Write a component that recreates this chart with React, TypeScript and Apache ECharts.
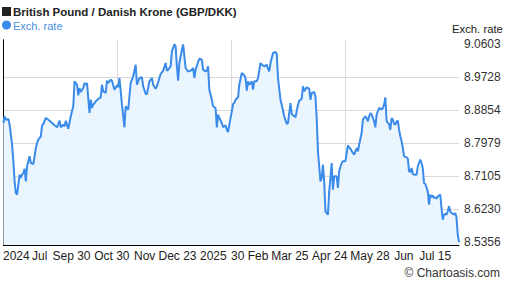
import { useEffect, useRef } from 'react';
import * as echarts from 'echarts';

// days since 2024-07-01
const days = [
  0, 1, 2, 4, 5, 7, 8, 9, 10, 11,
  13, 14, 15, 16, 17, 18, 19, 20, 21, 22,
  24, 25, 26, 27, 28, 30, 31, 32, 34, 35,
  37, 39, 41, 43, 45, 46, 48, 49, 50, 52,
  54, 56, 57, 59, 60, 61, 62, 64, 65, 66,
  67, 69, 70, 71, 72, 74, 76, 78, 79, 80,
  82, 83, 84, 86, 87, 89, 91, 92, 93, 95,
  97, 98, 100, 101, 102, 104, 106, 107, 109, 111,
  112, 114, 115, 117, 119, 120, 122, 123, 125, 126,
  128, 130, 131, 132, 134, 135, 137, 138, 139, 140,
  141, 143, 144, 145, 146, 148, 149, 151, 152, 153,
  154, 156, 157, 159, 160, 162, 163, 164, 165, 167,
  168, 170, 171, 172, 173, 175, 176, 178, 179, 180, 181,
  183, 184, 185, 186, 188, 189, 191, 193, 194,
  195, 196, 197, 198, 199, 200, 201, 203, 204, 206,
  207, 209, 211, 212, 213, 214, 216, 218, 219, 220,
  222, 223, 225, 227, 228, 229, 230, 231, 233, 234,
  236, 237, 239, 240, 241, 243, 245, 246, 247, 249,
  250, 251, 252, 253, 254, 255, 256, 257, 258, 260,
  261, 262, 263, 264, 265, 267, 268, 269, 271, 272, 274,
  276, 277, 278, 280, 281, 282, 283, 284, 285,
  287, 288, 290, 291, 292, 293, 294, 295, 297, 298,
  299, 301, 302, 303, 304, 305, 306, 307, 308, 309,
  310, 311, 312, 313, 314, 315, 316, 317, 318, 319,
  320, 321, 323, 324, 325, 326, 327, 328, 329, 331,
  332, 333, 334, 335, 336, 337, 338, 340, 341, 342,
  343, 344, 345, 346, 347, 348, 350, 351, 352, 353,
  354, 355, 356, 357, 358, 359, 361, 362, 363, 364, 365,
];

const rates = [
  8.8517, 8.8695, 8.8605, 8.8623, 8.8472, 8.7942, 8.7502, 8.6972, 8.6662, 8.6617,
  8.7147, 8.7060, 8.7147, 8.7192, 8.7306, 8.6972, 8.7370, 8.7502, 8.7635, 8.7457,
  8.7431, 8.7635, 8.7855, 8.7987, 8.8075, 8.8165, 8.8456, 8.8491, 8.8650, 8.8631,
  8.8578, 8.8517, 8.8456, 8.8403, 8.8578, 8.8403, 8.8472, 8.8430, 8.8578, 8.8366,
  8.8695, 8.8960, 8.9622, 8.9532, 8.9251, 8.9445, 8.9339, 8.9445, 8.9577, 8.9532,
  8.9577, 8.8782, 8.9135, 8.8915, 8.9002, 8.9092, 8.9153, 8.9198, 8.9532, 8.9357,
  8.9312, 8.9638, 8.9577, 8.9665, 8.9638, 8.9400, 8.9516, 8.9463, 8.9710, 8.9002,
  8.8403, 8.8960, 8.8870, 8.9225, 8.9577, 8.9755, 9.0062, 8.9532, 8.9710, 8.9728,
  8.9490, 8.9286, 8.9286, 8.9622, 8.9710, 8.9532, 8.9426, 8.9490, 8.9710, 8.9816,
  8.9903, 9.0107, 8.9903, 8.9930, 9.0020, 9.0417, 9.0600, 9.0550, 9.0020, 8.9638,
  9.0107, 9.0460, 9.0600, 9.0285, 8.9975, 8.9887, 8.9887, 8.9930, 8.9975, 8.9710,
  8.9930, 9.0134, 9.0221, 9.0195, 8.9930, 8.9887, 8.9903, 9.0020, 8.9400, 8.9135,
  8.8960, 8.8915, 8.8403, 8.8737, 8.8650, 8.8517, 8.8403, 8.8456, 8.8340, 8.8279, 8.8472,
  8.8827, 8.9021, 8.9047, 8.9135, 8.9198, 8.9532, 8.9842, 8.9781, 8.9710,
  8.9373, 8.9622, 8.9532, 8.9577, 8.9622, 8.9400, 8.9622, 8.9622, 8.9710, 9.0107,
  9.0062, 9.0020, 9.0062, 8.9956, 8.9887, 9.0107, 9.0372, 9.0399, 9.0346, 8.9710,
  8.9135, 8.9002, 8.8695, 8.8491, 8.8517, 8.8782, 8.9047, 8.8756, 8.8695, 8.8668,
  8.9002, 8.9108, 8.9161, 8.9490, 8.9357, 8.9463, 8.9426, 8.9135, 8.9312, 8.9339,
  8.9225, 8.8650, 8.7767, 8.7370, 8.6972, 8.7060, 8.7412, 8.6972, 8.6177, 8.6087,
  8.6707, 8.7060, 8.7457, 8.6750, 8.7105, 8.7105, 8.6795, 8.7237, 8.7457, 8.7502, 8.7502,
  8.7926, 8.7873, 8.7836, 8.7722, 8.7677, 8.7767, 8.7855, 8.7767, 8.7942,
  8.8252, 8.8605, 8.8695, 8.8650, 8.8562, 8.8695, 8.8782, 8.8737, 8.8562, 8.8403,
  8.8737, 8.8915, 8.8900, 8.8870, 8.8915, 8.9002, 8.9198, 8.8578, 8.8517, 8.8491,
  8.8340, 8.8650, 8.8605, 8.8491, 8.8472, 8.8562, 8.8578, 8.8340, 8.8165, 8.8032,
  8.7855, 8.7635, 8.7608, 8.7571, 8.7237, 8.7219, 8.7325, 8.7166, 8.7147, 8.7147,
  8.7370, 8.7457, 8.7545, 8.7457, 8.7325, 8.6927, 8.6901, 8.6707, 8.6352, 8.6617,
  8.6548, 8.6601, 8.6530, 8.6548, 8.6511, 8.6575, 8.6617, 8.6265, 8.5955, 8.6087,
  8.6106, 8.6087, 8.6177, 8.6310, 8.6177, 8.6132, 8.6087, 8.6132, 8.6018, 8.5557, 8.5360,
];

const yTicks = [8.5356, 8.623, 8.7105, 8.7979, 8.8854, 8.9728, 9.0603];
const yGridTicks = [8.623, 8.7105, 8.7979, 8.8854, 8.9728];
const xGridDays = [91.4, 182.3, 273.6];
const xLabelDays = [10.4, 29.1, 54.6, 86.9, 113.2, 139.5, 168.2, 197.3, 229.5, 261.4, 293.7, 320.8, 345.9];
const xLabels = ['2024', 'Jul', 'Sep 30', 'Oct 30', 'Nov', 'Dec 23', '2025', '30 Feb', 'Mar 25', 'Apr 24', 'May 28', 'Jun', 'Jul 15'];

const FONT = 'Liberation Sans, Arial, sans-serif';
const LINE = '#3b8beb';

export default function App() {
  const ref = useRef<HTMLDivElement>(null);
  useEffect(() => {
    if (!ref.current) return;
    const chart = echarts.init(ref.current, undefined, { renderer: 'svg' });
    const nearest = (arr: number[], v: number) => {
      let bi = 0;
      arr.forEach((a, i) => { if (Math.abs(a - v) < Math.abs(arr[bi] - v)) bi = i; });
      return bi;
    };
    chart.setOption({
      animation: false,
      textStyle: { fontFamily: FONT },
      grid: { left: 1, right: 48, top: 40, bottom: 43, containLabel: false },
      xAxis: {
        type: 'value',
        min: 0,
        max: 365,
        axisLine: { show: true, lineStyle: { color: '#000', width: 1 } },
        axisTick: { show: false, customValues: xGridDays },
        splitLine: { show: true, lineStyle: { color: '#d9d9d9', width: 1 } },
        axisLabel: {
          customValues: xLabelDays,
          color: '#222',
          fontSize: 12,
          fontFamily: FONT,
          margin: 5,
          hideOverlap: false,
          formatter: (v: number) => xLabels[nearest(xLabelDays, v)],
        },
      },
      yAxis: [
        {
          type: 'value',
          position: 'right',
          min: 8.5284,
          max: 9.0717,
          axisLine: { show: true, lineStyle: { color: '#000', width: 1 } },
          axisTick: { show: false, customValues: yGridTicks },
          splitLine: { show: true, lineStyle: { color: '#d9d9d9', width: 1 } },
          axisLabel: {
            customValues: yTicks,
            color: '#333',
            fontSize: 12,
            fontFamily: FONT,
            margin: 5,
            formatter: (v: number) => yTicks[nearest(yTicks, v)].toFixed(4),
          },
        },
        {
          type: 'value',
          position: 'left',
          min: 8.5284,
          max: 9.0717,
          axisLine: { show: true, lineStyle: { color: '#000', width: 1 } },
          axisTick: { show: false },
          splitLine: { show: false },
          axisLabel: { show: false },
        },
      ],
      series: [
        {
          type: 'line',
          name: 'Exch. rate',
          data: days.map((d, i) => [d, rates[i]]),
          showSymbol: false,
          symbol: 'none',
          lineStyle: { color: LINE, width: 2 },
          areaStyle: { color: '#ebf5fe', opacity: 1, origin: 'start' },
          z: 3,
        },
      ],
      graphic: [
        { type: 'rect', shape: { x: 2, y: 7, width: 9, height: 9 }, style: { fill: '#222' } },
        {
          type: 'text', x: 13, y: 12,
          style: { text: 'British Pound / Danish Krone (GBP/DKK)', fill: '#222', font: `bold 11.5px ${FONT}`, verticalAlign: 'middle' },
        },
        { type: 'circle', shape: { cx: 6.5, cy: 25, r: 4.5 }, style: { fill: LINE } },
        {
          type: 'text', x: 13, y: 25.5,
          style: { text: 'Exch. rate', fill: '#4a90e2', font: `11px ${FONT}`, verticalAlign: 'middle' },
        },
        {
          type: 'text', x: 452, y: 28.5,
          style: { text: 'Exch. rate', fill: '#222', font: `11.3px ${FONT}`, verticalAlign: 'middle' },
        },
        {
          type: 'text', x: 500, y: 273,
          style: { text: '© Chartoasis.com', fill: '#333', font: `12px ${FONT}`, align: 'right', verticalAlign: 'middle' },
        },
      ],
    });
    return () => chart.dispose();
  }, []);
  return <div ref={ref} style={{ position: 'fixed', left: 0, top: 0, width: 507, height: 288, background: '#fff' }} />;
}
